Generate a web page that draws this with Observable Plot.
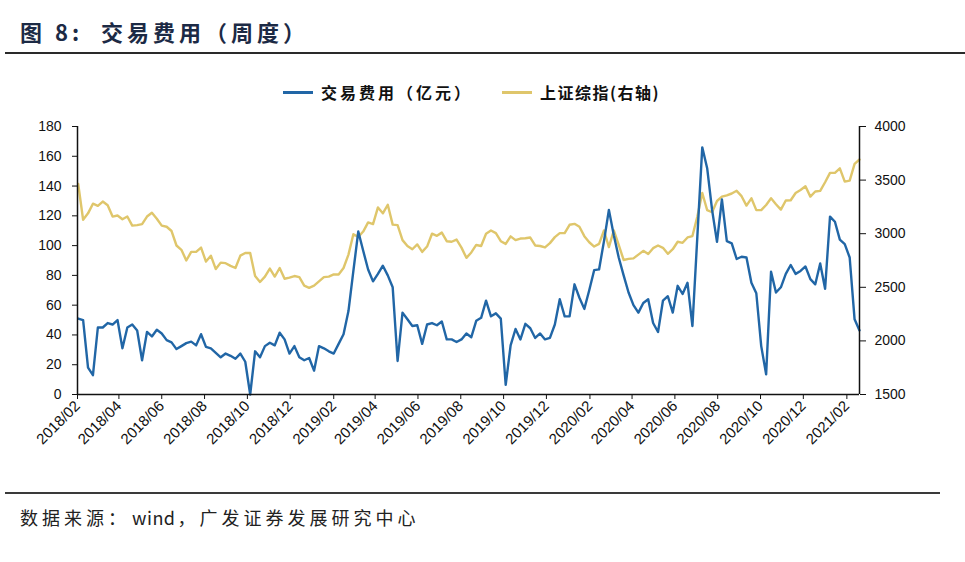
<!DOCTYPE html>
<html>
<head>
<meta charset="utf-8">
<script src="https://cdn.jsdelivr.net/npm/d3@7"></script>
<script src="https://cdn.jsdelivr.net/npm/@observablehq/plot@0.6"></script>
<style>
  html, body { margin: 0; padding: 0; background: #fff; }
  #page { position: relative; width: 965px; height: 562px; overflow: hidden; background: #fff;
          font-family: "Noto Sans CJK SC", "Noto Sans", sans-serif; }
  .abs { position: absolute; }
  #title { left: 20px; top: 16px; font-size: 22px; font-weight: 700; color: #1c2a45;
           letter-spacing: 4px; white-space: pre; line-height: 30px; }
  #rule-top { left: 5px; top: 52px; width: 960px; height: 1.5px; background: #2a2a2a; }
  .legend-swatch { height: 2.5px; width: 30px; }
  .legend-text { font-size: 16px; font-weight: 700; color: #111; line-height: 20px; white-space: pre; }
  #chart { left: 0; top: 106px; }
  #rule-bottom { left: 5px; top: 492px; width: 935px; height: 1.5px; background: #3a3a3a; }
  #source { left: 20px; top: 504px; font-size: 18px; color: #222; letter-spacing: 4px;
            white-space: pre; line-height: 26px; }
  #source .latin { letter-spacing: 0.5px; margin-left: 2px; margin-right: 2px; }
</style>
</head>
<body>
<div id="page">
  <div id="title" class="abs">图 8:  交易费用（周度）</div>
  <div id="rule-top" class="abs"></div>

  <div class="abs legend-swatch" style="left:283px; top:91px; background:#2166a6;"></div>
  <div class="abs legend-text" style="left:321px; top:82px; letter-spacing:3px;">交易费用（亿元）</div>
  <div class="abs legend-swatch" style="left:502px; top:91px; background:#dfc66b;"></div>
  <div class="abs legend-text" style="left:540px; top:82px; letter-spacing:1.5px;">上证综指(右轴)</div>

  <div id="chart" class="abs"></div>

  <div id="rule-bottom" class="abs"></div>
  <div id="source" class="abs">数据来源：<span class="latin">wind</span>，广发证券发展研究中心</div>
</div>

<script>
// Weekly trading fees (亿元), one value per week ending Friday, 2018-02-02 … 2021-02-19
const tradingFee = [
  51, 50, 18, 13, 45, 45, 48, 47, 50, 31,
  45, 47, 43, 23, 42, 39, 43.5, 41, 36.5, 35,
  30.5, 32.5, 34.5, 35.5, 33, 40.5, 32, 31, 28, 25,
  27.5, 26, 24, 27.5, 22, 0, 29, 25, 32.5, 34.8,
  33, 41.5, 37, 27.5, 32.5, 25, 23, 24.5, 16, 32.5,
  31, 29, 27.5, 34, 40.5, 56, 83, 109.5, 96.5, 84,
  76, 81, 86.5, 80, 72, 22.5, 55, 50.5, 46, 46.5,
  34, 47, 48, 46.5, 49, 37, 37, 35.3, 37, 41,
  38.5, 49.5, 51.5, 63, 52.5, 54.5, 51, 6.5, 33, 44,
  37, 47.5, 44.5, 38, 41, 37, 38, 47, 64, 52.5,
  52.5, 74, 65, 57.5, 70, 83.5, 84, 103, 124, 107,
  92, 80, 68.5, 60, 55, 61.5, 64, 48, 42, 63,
  66, 55, 73, 67.5, 75, 46, 106, 166, 152, 124,
  102.5, 131, 103, 101.5, 91, 92.5, 92, 75, 68, 32.5,
  13.5, 82.5, 68.5, 72, 81, 87, 81, 83, 86, 77.5,
  74, 88, 71, 119.5, 116, 104, 101, 92, 50.5, 43
];

// Shanghai Composite weekly close (right axis)
const sseIndex = [
  3465, 3130, 3190, 3280, 3260, 3300, 3265, 3160, 3170, 3135,
  3160, 3075, 3080, 3090, 3160, 3195, 3140, 3075, 3065, 3025,
  2890, 2850, 2750, 2830, 2830, 2870, 2740, 2795, 2670, 2730,
  2725, 2700, 2680, 2795, 2820, 2820, 2605, 2550, 2600, 2675,
  2600, 2680, 2580, 2590, 2605, 2595, 2515, 2495, 2515, 2555,
  2595, 2600, 2620, 2620, 2680, 2805, 2995, 2970, 3020, 3105,
  3090, 3245, 3190, 3270, 3085, 3080, 2940, 2885, 2855, 2900,
  2830, 2880, 3000, 2980, 3010, 2930, 2925, 2945, 2870, 2775,
  2825, 2895, 2885, 3000, 3030, 3005, 2930, 2905, 2975, 2940,
  2955, 2958, 2964, 2890, 2885, 2872, 2912, 2968, 3005, 3005,
  3083, 3092, 3065, 2977, 2920, 2880, 2905, 3030, 2875, 3030,
  2895, 2755, 2765, 2770, 2805, 2840, 2810, 2865, 2890, 2868,
  2812, 2855, 2925, 2915, 2965, 2978, 3160, 3380, 3220, 3200,
  3305, 3345, 3358, 3375, 3400, 3350, 3262, 3330, 3220, 3220,
  3268, 3330, 3275, 3225, 3310, 3312, 3380, 3408, 3442, 3346,
  3394, 3400, 3480, 3567, 3568, 3610, 3486, 3495, 3652, 3692
];

// Axis ticks
const xTickLabels = [
  "2018/02", "2018/04", "2018/06", "2018/08", "2018/10", "2018/12",
  "2019/02", "2019/04", "2019/06", "2019/08", "2019/10", "2019/12",
  "2020/02", "2020/04", "2020/06", "2020/08", "2020/10", "2020/12", "2021/02"
];
const leftTicks = [0, 20, 40, 60, 80, 100, 120, 140, 160, 180];
const rightTicks = [1500, 2000, 2500, 3000, 3500, 4000];

const blue = "#2166a6";
const gold = "#dfc66b";

// week-ending Fridays
const firstWeek = new Date(Date.UTC(2018, 1, 2));
const weeks = d3.utcFriday.range(firstWeek, new Date(Date.UTC(2021, 1, 20)));

const data = weeks.map((date, i) => ({date, fee: tradingFee[i], sse: sseIndex[i]}));

// right-axis values are placed on the left scale (0–180 ↔ 1500–4000)
const [rMin, rMax] = [rightTicks[0], rightTicks[rightTicks.length - 1]];
const [lMin, lMax] = [leftTicks[0], leftTicks[leftTicks.length - 1]];
const toLeft = v => lMin + (v - rMin) / (rMax - rMin) * (lMax - lMin);
const fromLeft = v => rMin + (v - lMin) / (lMax - lMin) * (rMax - rMin);

const parseTick = d3.utcParse("%Y/%m");
const xTicks = xTickLabels.map(parseTick);
const xDomain = [xTicks[0], weeks[weeks.length - 1]];

const chart = Plot.plot({
  width: 965,
  height: 374,
  marginTop: 20,
  marginBottom: 86,
  marginLeft: 77,
  marginRight: 106,
  style: {fontFamily: "'Liberation Sans', Arial, sans-serif", fontSize: "14px", color: "#111", background: "transparent"},
  x: {type: "utc", domain: xDomain},
  y: {domain: [lMin, lMax]},
  marks: [
    Plot.axisY(leftTicks, {anchor: "left", tickSize: 5, tickPadding: 11, label: null, tickFormat: d => String(d)}),
    Plot.axisY(rightTicks.map(toLeft), {anchor: "right", tickSize: 6, tickPadding: 9, label: null,
      tickFormat: d => String(Math.round(fromLeft(d)))}),
    Plot.axisX(xTicks, {anchor: "bottom", tickSize: 5, tickPadding: 4, tickRotate: -45, label: null,
      fontSize: 15, tickFormat: d3.utcFormat("%Y/%m")}),
    Plot.line(data, {x: "date", y: d => toLeft(d.sse), stroke: gold, strokeWidth: 2.4,
      strokeLinejoin: "round", strokeLinecap: "round"}),
    Plot.line(data, {x: "date", y: "fee", stroke: blue, strokeWidth: 2.4,
      strokeLinejoin: "round", strokeLinecap: "round"}),
    Plot.ruleX([xDomain[0]], {stroke: "#111", strokeWidth: 1.5}),
    Plot.ruleX([xDomain[1]], {stroke: "#111", strokeWidth: 1.5}),
    Plot.ruleY([lMin], {stroke: "#111", strokeWidth: 1.5})
  ]
});

document.getElementById("chart").appendChild(chart);
</script>
</body>
</html>
